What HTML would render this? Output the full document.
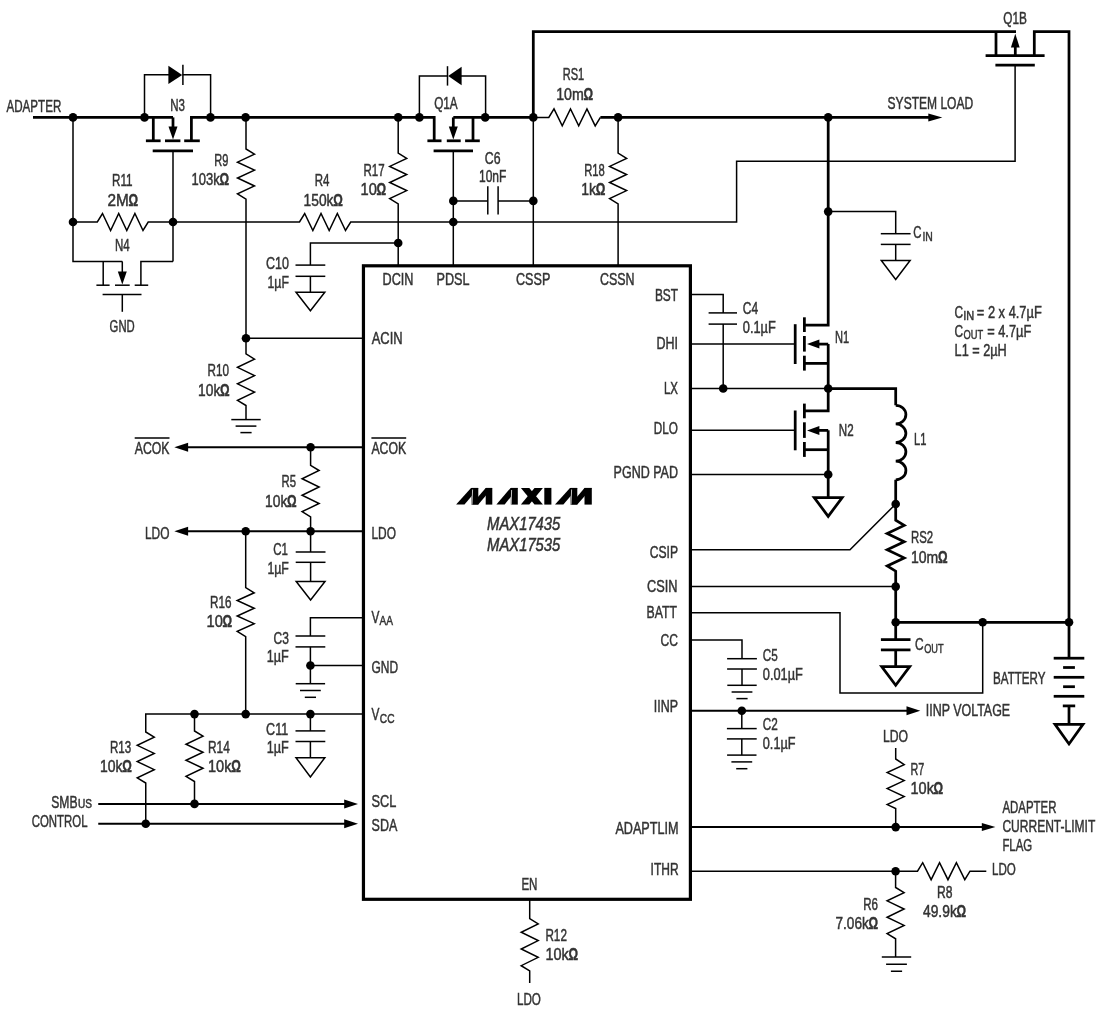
<!DOCTYPE html>
<html><head><meta charset="utf-8"><title>MAX17435 Typical Operating Circuit</title>
<style>
html,body{margin:0;padding:0;background:#fff;}
svg{display:block;filter:grayscale(1);}
text{font-family:"Liberation Sans",sans-serif;fill:#333333;stroke:#333333;stroke-width:0.5px;}
</style></head><body>
<svg width="1100" height="1018" viewBox="0 0 1100 1018">
<rect x="0" y="0" width="1100" height="1018" fill="#ffffff"/>
<path d="M33.00,117.40 L173.00,117.40" stroke="#000000" stroke-width="2.75" fill="none" stroke-linejoin="miter" stroke-linecap="butt"/>
<path d="M153.30,117.40 L153.30,140.80" stroke="#000000" stroke-width="2.75" fill="none" stroke-linejoin="miter" stroke-linecap="butt"/>
<path d="M173.00,117.40 L173.00,128.00" stroke="#000000" stroke-width="2.75" fill="none" stroke-linejoin="miter" stroke-linecap="butt"/>
<path d="M173.00,139.50 L168.50,126.50 L177.50,126.50 Z" fill="#000000" stroke="none"/>
<path d="M145.90,140.80 L160.60,140.80" stroke="#000000" stroke-width="2.75" fill="none" stroke-linejoin="miter" stroke-linecap="butt"/>
<path d="M165.00,140.80 L180.40,140.80" stroke="#000000" stroke-width="2.75" fill="none" stroke-linejoin="miter" stroke-linecap="butt"/>
<path d="M184.20,140.80 L199.80,140.80" stroke="#000000" stroke-width="2.75" fill="none" stroke-linejoin="miter" stroke-linecap="butt"/>
<path d="M152.70,150.80 L193.00,150.80" stroke="#000000" stroke-width="2.75" fill="none" stroke-linejoin="miter" stroke-linecap="butt"/>
<path d="M191.40,140.80 L191.40,117.40 L434.20,117.40 L434.20,140.80" stroke="#000000" stroke-width="2.75" fill="none" stroke-linejoin="miter" stroke-linecap="butt"/>
<circle cx="73.00" cy="117.40" r="4.3" fill="#000000"/>
<circle cx="144.50" cy="117.40" r="4.3" fill="#000000"/>
<circle cx="210.50" cy="117.40" r="4.3" fill="#000000"/>
<circle cx="245.60" cy="117.40" r="4.3" fill="#000000"/>
<path d="M144.50,117.40 L144.50,74.70 L169.00,74.70" stroke="#000000" stroke-width="1.5" fill="none" stroke-linejoin="miter" stroke-linecap="butt"/>
<path d="M182.70,74.70 L210.60,74.70 L210.60,117.40" stroke="#000000" stroke-width="1.5" fill="none" stroke-linejoin="miter" stroke-linecap="butt"/>
<path d="M168.4,65.8 L168.4,84 L182.2,74.9 Z" fill="#000000"/>
<path d="M182.90,64.70 L182.90,85.00" stroke="#000000" stroke-width="1.5" fill="none" stroke-linejoin="miter" stroke-linecap="butt"/>
<path d="M173.00,150.80 L173.00,261.40" stroke="#000000" stroke-width="1.5" fill="none" stroke-linejoin="miter" stroke-linecap="butt"/>
<path d="M73.00,117.40 L73.00,261.40 L122.30,261.40" stroke="#000000" stroke-width="1.5" fill="none" stroke-linejoin="miter" stroke-linecap="butt"/>
<path d="M103.20,261.40 L103.20,285.20" stroke="#000000" stroke-width="1.5" fill="none" stroke-linejoin="miter" stroke-linecap="butt"/>
<path d="M122.30,261.40 L122.30,274.00" stroke="#000000" stroke-width="1.5" fill="none" stroke-linejoin="miter" stroke-linecap="butt"/>
<path d="M122.30,284.50 L117.80,271.50 L126.80,271.50 Z" fill="#000000" stroke="none"/>
<path d="M96.40,285.20 L109.60,285.20" stroke="#000000" stroke-width="1.5" fill="none" stroke-linejoin="miter" stroke-linecap="butt"/>
<path d="M115.00,285.20 L129.70,285.20" stroke="#000000" stroke-width="1.5" fill="none" stroke-linejoin="miter" stroke-linecap="butt"/>
<path d="M134.70,285.20 L148.20,285.20" stroke="#000000" stroke-width="1.5" fill="none" stroke-linejoin="miter" stroke-linecap="butt"/>
<path d="M140.90,285.20 L140.90,261.40 L173.00,261.40" stroke="#000000" stroke-width="1.5" fill="none" stroke-linejoin="miter" stroke-linecap="butt"/>
<path d="M102.60,294.60 L141.50,294.60" stroke="#000000" stroke-width="1.5" fill="none" stroke-linejoin="miter" stroke-linecap="butt"/>
<path d="M122.30,294.60 L122.30,311.80" stroke="#000000" stroke-width="1.5" fill="none" stroke-linejoin="miter" stroke-linecap="butt"/>
<path d="M73.00,222.00 L97.30,222.00 L102.50,213.50 L110.60,230.50 L118.70,213.50 L126.80,230.50 L134.90,213.50 L143.00,230.50 L148.20,222.00 L299.50,222.00 L304.70,213.50 L312.86,230.50 L321.02,213.50 L329.18,230.50 L337.34,213.50 L345.50,230.50 L350.70,222.00 L736.60,222.00 L736.60,161.30 L1015.10,161.30 L1015.10,65.10" stroke="#000000" stroke-width="1.5" fill="none" stroke-linejoin="miter" stroke-linecap="butt"/>
<circle cx="73.00" cy="222.00" r="4.3" fill="#000000"/>
<circle cx="173.00" cy="222.00" r="4.3" fill="#000000"/>
<path d="M246.00,117.40 L246.00,149.00 L254.50,154.20 L237.50,162.14 L254.50,170.08 L237.50,178.02 L254.50,185.96 L237.50,193.90 L246.00,199.10 L246.00,338.30 L246.00,353.90 L254.50,359.10 L237.50,367.34 L254.50,375.58 L237.50,383.82 L254.50,392.06 L237.50,400.30 L246.00,405.50 L246.00,419.60" stroke="#000000" stroke-width="1.5" fill="none" stroke-linejoin="miter" stroke-linecap="butt"/>
<circle cx="246.00" cy="338.30" r="4.3" fill="#000000"/>
<path d="M246.00,338.30 L363.40,338.30" stroke="#000000" stroke-width="1.5" fill="none" stroke-linejoin="miter" stroke-linecap="butt"/>
<path d="M231.30,419.60 L260.70,419.60" stroke="#000000" stroke-width="1.5" fill="none" stroke-linejoin="miter" stroke-linecap="butt"/>
<path d="M235.60,426.10 L256.40,426.10" stroke="#000000" stroke-width="1.5" fill="none" stroke-linejoin="miter" stroke-linecap="butt"/>
<path d="M240.40,432.60 L251.60,432.60" stroke="#000000" stroke-width="1.5" fill="none" stroke-linejoin="miter" stroke-linecap="butt"/>
<circle cx="398.20" cy="117.40" r="4.3" fill="#000000"/>
<path d="M398.20,117.40 L398.20,153.20 L406.70,158.40 L389.70,166.44 L406.70,174.48 L389.70,182.52 L406.70,190.56 L389.70,198.60 L398.20,203.80 L398.20,266.00" stroke="#000000" stroke-width="1.5" fill="none" stroke-linejoin="miter" stroke-linecap="butt"/>
<circle cx="398.20" cy="243.00" r="4.3" fill="#000000"/>
<path d="M398.20,243.00 L310.40,243.00 L310.40,265.10" stroke="#000000" stroke-width="1.5" fill="none" stroke-linejoin="miter" stroke-linecap="butt"/>
<path d="M295.50,265.10 L325.30,265.10" stroke="#000000" stroke-width="1.5" fill="none" stroke-linejoin="miter" stroke-linecap="butt"/>
<path d="M295.50,276.30 L325.30,276.30" stroke="#000000" stroke-width="1.5" fill="none" stroke-linejoin="miter" stroke-linecap="butt"/>
<path d="M310.40,276.30 L310.40,292.30" stroke="#000000" stroke-width="1.5" fill="none" stroke-linejoin="miter" stroke-linecap="butt"/>
<path d="M296.00,292.30 L324.80,292.30 L310.40,310.80 Z" stroke="#000000" stroke-width="1.5" fill="none" stroke-linejoin="miter" stroke-linecap="butt"/>
<circle cx="419.40" cy="117.40" r="4.3" fill="#000000"/>
<circle cx="485.20" cy="117.40" r="4.3" fill="#000000"/>
<path d="M427.40,140.80 L441.50,140.80" stroke="#000000" stroke-width="2.75" fill="none" stroke-linejoin="miter" stroke-linecap="butt"/>
<path d="M446.80,140.80 L460.70,140.80" stroke="#000000" stroke-width="2.75" fill="none" stroke-linejoin="miter" stroke-linecap="butt"/>
<path d="M465.10,140.80 L479.80,140.80" stroke="#000000" stroke-width="2.75" fill="none" stroke-linejoin="miter" stroke-linecap="butt"/>
<path d="M433.60,150.80 L473.00,150.80" stroke="#000000" stroke-width="2.75" fill="none" stroke-linejoin="miter" stroke-linecap="butt"/>
<path d="M473.00,140.80 L473.00,117.40" stroke="#000000" stroke-width="2.75" fill="none" stroke-linejoin="miter" stroke-linecap="butt"/>
<path d="M453.30,117.40 L533.30,117.40" stroke="#000000" stroke-width="2.75" fill="none" stroke-linejoin="miter" stroke-linecap="butt"/>
<path d="M453.30,117.40 L453.30,128.00" stroke="#000000" stroke-width="2.75" fill="none" stroke-linejoin="miter" stroke-linecap="butt"/>
<path d="M453.30,139.50 L448.80,126.50 L457.80,126.50 Z" fill="#000000" stroke="none"/>
<path d="M453.30,150.80 L453.30,266.00" stroke="#000000" stroke-width="1.5" fill="none" stroke-linejoin="miter" stroke-linecap="butt"/>
<circle cx="453.30" cy="200.90" r="4.3" fill="#000000"/>
<circle cx="453.30" cy="222.00" r="4.3" fill="#000000"/>
<path d="M419.40,117.40 L419.40,75.90 L448.00,75.90" stroke="#000000" stroke-width="1.5" fill="none" stroke-linejoin="miter" stroke-linecap="butt"/>
<path d="M461.00,75.90 L485.60,75.90 L485.60,117.40" stroke="#000000" stroke-width="1.5" fill="none" stroke-linejoin="miter" stroke-linecap="butt"/>
<path d="M461.6,66.8 L461.6,85.2 L448.2,76 Z" fill="#000000"/>
<path d="M447.50,66.20 L447.50,85.60" stroke="#000000" stroke-width="1.5" fill="none" stroke-linejoin="miter" stroke-linecap="butt"/>
<path d="M453.30,200.90 L487.80,200.90" stroke="#000000" stroke-width="1.5" fill="none" stroke-linejoin="miter" stroke-linecap="butt"/>
<path d="M498.10,200.90 L533.30,200.90" stroke="#000000" stroke-width="1.5" fill="none" stroke-linejoin="miter" stroke-linecap="butt"/>
<path d="M487.80,186.20 L487.80,214.60" stroke="#000000" stroke-width="1.5" fill="none" stroke-linejoin="miter" stroke-linecap="butt"/>
<path d="M498.10,186.20 L498.10,214.60" stroke="#000000" stroke-width="1.5" fill="none" stroke-linejoin="miter" stroke-linecap="butt"/>
<circle cx="533.30" cy="200.90" r="4.3" fill="#000000"/>
<circle cx="533.30" cy="117.40" r="4.3" fill="#000000"/>
<path d="M533.30,117.40 L533.30,266.00" stroke="#000000" stroke-width="1.5" fill="none" stroke-linejoin="miter" stroke-linecap="butt"/>
<path d="M533.30,117.40 L533.30,31.70 L1016.00,31.70" stroke="#000000" stroke-width="2.75" fill="none" stroke-linejoin="miter" stroke-linecap="butt"/>
<path d="M996.00,31.70 L996.00,55.60" stroke="#000000" stroke-width="2.75" fill="none" stroke-linejoin="miter" stroke-linecap="butt"/>
<path d="M985.60,55.60 L1044.60,55.60" stroke="#000000" stroke-width="2.75" fill="none" stroke-linejoin="miter" stroke-linecap="butt"/>
<path d="M1034.30,55.60 L1034.30,31.70 L1069.00,31.70 L1069.00,658.10" stroke="#000000" stroke-width="2.75" fill="none" stroke-linejoin="miter" stroke-linecap="butt"/>
<path d="M1015.30,55.60 L1015.30,46.00" stroke="#000000" stroke-width="2.75" fill="none" stroke-linejoin="miter" stroke-linecap="butt"/>
<path d="M1015.30,33.80 L1010.90,47.40 L1019.70,47.40 Z" fill="#000000" stroke="none"/>
<path d="M995.40,65.10 L1034.80,65.10" stroke="#000000" stroke-width="2.75" fill="none" stroke-linejoin="miter" stroke-linecap="butt"/>
<path d="M533.30,117.40 L548.80,117.40 L554.00,108.90 L562.24,125.90 L570.48,108.90 L578.72,125.90 L586.96,108.90 L595.20,125.90 L600.40,117.40" stroke="#000000" stroke-width="1.5" fill="none" stroke-linejoin="miter" stroke-linecap="butt"/>
<path d="M600.40,117.40 L930.00,117.40" stroke="#000000" stroke-width="2.75" fill="none" stroke-linejoin="miter" stroke-linecap="butt"/>
<path d="M942.30,117.40 L928.30,113.40 L928.30,121.40 Z" fill="#000000" stroke="none"/>
<circle cx="618.10" cy="117.40" r="4.3" fill="#000000"/>
<path d="M618.10,117.40 L618.10,153.20 L626.60,158.40 L609.60,166.44 L626.60,174.48 L609.60,182.52 L626.60,190.56 L609.60,198.60 L618.10,203.80 L618.10,266.00" stroke="#000000" stroke-width="1.5" fill="none" stroke-linejoin="miter" stroke-linecap="butt"/>
<circle cx="828.20" cy="117.40" r="4.3" fill="#000000"/>
<circle cx="828.20" cy="211.60" r="4.3" fill="#000000"/>
<path d="M828.20,117.40 L828.20,325.10 L804.40,325.10" stroke="#000000" stroke-width="2.75" fill="none" stroke-linejoin="miter" stroke-linecap="butt"/>
<path d="M828.20,211.60 L895.70,211.60 L895.70,233.70" stroke="#000000" stroke-width="1.5" fill="none" stroke-linejoin="miter" stroke-linecap="butt"/>
<path d="M880.80,233.70 L910.60,233.70" stroke="#000000" stroke-width="1.5" fill="none" stroke-linejoin="miter" stroke-linecap="butt"/>
<path d="M880.80,244.40 L910.60,244.40" stroke="#000000" stroke-width="1.5" fill="none" stroke-linejoin="miter" stroke-linecap="butt"/>
<path d="M895.70,244.40 L895.70,260.50" stroke="#000000" stroke-width="1.5" fill="none" stroke-linejoin="miter" stroke-linecap="butt"/>
<path d="M881.30,260.50 L910.10,260.50 L895.70,279.40 Z" stroke="#000000" stroke-width="1.5" fill="none" stroke-linejoin="miter" stroke-linecap="butt"/>
<path d="M795.20,324.20 L795.20,364.00" stroke="#000000" stroke-width="2.75" fill="none" stroke-linejoin="miter" stroke-linecap="butt"/>
<path d="M804.40,317.30 L804.40,332.00" stroke="#000000" stroke-width="2.75" fill="none" stroke-linejoin="miter" stroke-linecap="butt"/>
<path d="M804.40,336.00 L804.40,351.60" stroke="#000000" stroke-width="2.75" fill="none" stroke-linejoin="miter" stroke-linecap="butt"/>
<path d="M804.40,355.70 L804.40,370.60" stroke="#000000" stroke-width="2.75" fill="none" stroke-linejoin="miter" stroke-linecap="butt"/>
<path d="M804.40,363.40 L828.20,363.40" stroke="#000000" stroke-width="2.75" fill="none" stroke-linejoin="miter" stroke-linecap="butt"/>
<path d="M818.00,344.10 L828.20,344.10" stroke="#000000" stroke-width="2.75" fill="none" stroke-linejoin="miter" stroke-linecap="butt"/>
<path d="M807.00,344.10 L819.40,339.60 L819.40,348.60 Z" fill="#000000" stroke="none"/>
<path d="M828.20,344.00 L828.20,388.50" stroke="#000000" stroke-width="2.75" fill="none" stroke-linejoin="miter" stroke-linecap="butt"/>
<path d="M690.40,344.00 L795.20,344.00" stroke="#000000" stroke-width="1.5" fill="none" stroke-linejoin="miter" stroke-linecap="butt"/>
<path d="M795.20,410.50 L795.20,450.30" stroke="#000000" stroke-width="2.75" fill="none" stroke-linejoin="miter" stroke-linecap="butt"/>
<path d="M804.40,403.60 L804.40,418.30" stroke="#000000" stroke-width="2.75" fill="none" stroke-linejoin="miter" stroke-linecap="butt"/>
<path d="M804.40,422.30 L804.40,437.90" stroke="#000000" stroke-width="2.75" fill="none" stroke-linejoin="miter" stroke-linecap="butt"/>
<path d="M804.40,442.00 L804.40,456.90" stroke="#000000" stroke-width="2.75" fill="none" stroke-linejoin="miter" stroke-linecap="butt"/>
<path d="M804.40,449.70 L828.20,449.70" stroke="#000000" stroke-width="2.75" fill="none" stroke-linejoin="miter" stroke-linecap="butt"/>
<path d="M818.00,430.40 L828.20,430.40" stroke="#000000" stroke-width="2.75" fill="none" stroke-linejoin="miter" stroke-linecap="butt"/>
<path d="M807.00,430.40 L819.40,425.90 L819.40,434.90 Z" fill="#000000" stroke="none"/>
<path d="M804.40,410.90 L828.20,410.90 L828.20,388.50" stroke="#000000" stroke-width="2.75" fill="none" stroke-linejoin="miter" stroke-linecap="butt"/>
<path d="M828.20,430.30 L828.20,497.50" stroke="#000000" stroke-width="2.75" fill="none" stroke-linejoin="miter" stroke-linecap="butt"/>
<path d="M814.20,497.50 L842.20,497.50 L828.20,516.40 Z" stroke="#000000" stroke-width="2.75" fill="none" stroke-linejoin="miter" stroke-linecap="butt"/>
<path d="M690.40,430.30 L795.20,430.30" stroke="#000000" stroke-width="1.5" fill="none" stroke-linejoin="miter" stroke-linecap="butt"/>
<path d="M690.40,474.50 L828.20,474.50" stroke="#000000" stroke-width="1.5" fill="none" stroke-linejoin="miter" stroke-linecap="butt"/>
<circle cx="828.20" cy="474.50" r="4.3" fill="#000000"/>
<path d="M690.40,388.50 L828.20,388.50" stroke="#000000" stroke-width="1.5" fill="none" stroke-linejoin="miter" stroke-linecap="butt"/>
<circle cx="723.20" cy="388.50" r="4.3" fill="#000000"/>
<circle cx="828.20" cy="388.50" r="4.3" fill="#000000"/>
<path d="M690.40,294.60 L723.20,294.60 L723.20,312.90" stroke="#000000" stroke-width="1.5" fill="none" stroke-linejoin="miter" stroke-linecap="butt"/>
<path d="M708.60,312.90 L737.00,312.90" stroke="#000000" stroke-width="1.5" fill="none" stroke-linejoin="miter" stroke-linecap="butt"/>
<path d="M708.60,324.10 L737.00,324.10" stroke="#000000" stroke-width="1.5" fill="none" stroke-linejoin="miter" stroke-linecap="butt"/>
<path d="M723.20,324.10 L723.20,388.50" stroke="#000000" stroke-width="1.5" fill="none" stroke-linejoin="miter" stroke-linecap="butt"/>
<path d="M828.20,388.50 L895.70,388.50 L895.70,405.30" stroke="#000000" stroke-width="2.75" fill="none" stroke-linejoin="miter" stroke-linecap="butt"/>
<path d="M895.7,405.3 a10.2,9.31 0 0 1 0,18.62 a10.2,9.31 0 0 1 0,18.62 a10.2,9.31 0 0 1 0,18.62 a10.2,9.31 0 0 1 0,18.62 " stroke="#000000" stroke-width="2.75" fill="none"/>
<path d="M895.70,479.80 L895.70,520.20 L904.20,525.40 L887.20,533.52 L904.20,541.64 L887.20,549.76 L904.20,557.88 L887.20,566.00 L895.70,571.20 L895.70,639.60" stroke="#000000" stroke-width="2.75" fill="none" stroke-linejoin="miter" stroke-linecap="butt"/>
<circle cx="895.70" cy="504.00" r="4.3" fill="#000000"/>
<circle cx="895.70" cy="586.60" r="4.3" fill="#000000"/>
<circle cx="895.70" cy="622.30" r="4.3" fill="#000000"/>
<path d="M690.40,549.80 L850.00,549.80 L895.70,504.00" stroke="#000000" stroke-width="1.5" fill="none" stroke-linejoin="miter" stroke-linecap="butt"/>
<path d="M690.40,586.60 L895.70,586.60" stroke="#000000" stroke-width="1.5" fill="none" stroke-linejoin="miter" stroke-linecap="butt"/>
<path d="M690.40,612.80 L840.00,612.80 L840.00,693.00 L982.70,693.00 L982.70,622.30" stroke="#000000" stroke-width="1.5" fill="none" stroke-linejoin="miter" stroke-linecap="butt"/>
<path d="M895.70,622.30 L1069.00,622.30" stroke="#000000" stroke-width="2.75" fill="none" stroke-linejoin="miter" stroke-linecap="butt"/>
<circle cx="982.70" cy="622.30" r="4.3" fill="#000000"/>
<circle cx="1069.00" cy="622.30" r="4.3" fill="#000000"/>
<path d="M880.90,639.60 L910.50,639.60" stroke="#000000" stroke-width="2.75" fill="none" stroke-linejoin="miter" stroke-linecap="butt"/>
<path d="M880.90,649.90 L910.50,649.90" stroke="#000000" stroke-width="2.75" fill="none" stroke-linejoin="miter" stroke-linecap="butt"/>
<path d="M895.70,649.90 L895.70,666.70" stroke="#000000" stroke-width="2.75" fill="none" stroke-linejoin="miter" stroke-linecap="butt"/>
<path d="M881.70,666.70 L909.70,666.70 L895.70,685.30 Z" stroke="#000000" stroke-width="2.75" fill="none" stroke-linejoin="miter" stroke-linecap="butt"/>
<path d="M690.40,639.90 L742.00,639.90 L742.00,658.70" stroke="#000000" stroke-width="1.5" fill="none" stroke-linejoin="miter" stroke-linecap="butt"/>
<path d="M727.10,658.70 L756.90,658.70" stroke="#000000" stroke-width="1.5" fill="none" stroke-linejoin="miter" stroke-linecap="butt"/>
<path d="M727.10,669.00 L756.90,669.00" stroke="#000000" stroke-width="1.5" fill="none" stroke-linejoin="miter" stroke-linecap="butt"/>
<path d="M742.00,669.00 L742.00,685.30" stroke="#000000" stroke-width="1.5" fill="none" stroke-linejoin="miter" stroke-linecap="butt"/>
<path d="M727.30,685.30 L756.70,685.30" stroke="#000000" stroke-width="1.5" fill="none" stroke-linejoin="miter" stroke-linecap="butt"/>
<path d="M731.60,692.00 L752.40,692.00" stroke="#000000" stroke-width="1.5" fill="none" stroke-linejoin="miter" stroke-linecap="butt"/>
<path d="M736.40,698.60 L747.60,698.60" stroke="#000000" stroke-width="1.5" fill="none" stroke-linejoin="miter" stroke-linecap="butt"/>
<path d="M690.40,710.80 L908.00,710.80" stroke="#000000" stroke-width="2.0" fill="none" stroke-linejoin="miter" stroke-linecap="butt"/>
<path d="M920.30,710.80 L906.50,706.30 L906.50,715.30 Z" fill="#000000" stroke="none"/>
<circle cx="741.80" cy="710.80" r="4.3" fill="#000000"/>
<path d="M741.80,710.80 L741.80,728.60" stroke="#000000" stroke-width="1.5" fill="none" stroke-linejoin="miter" stroke-linecap="butt"/>
<path d="M726.90,728.60 L756.70,728.60" stroke="#000000" stroke-width="1.5" fill="none" stroke-linejoin="miter" stroke-linecap="butt"/>
<path d="M726.90,738.90 L756.70,738.90" stroke="#000000" stroke-width="1.5" fill="none" stroke-linejoin="miter" stroke-linecap="butt"/>
<path d="M741.80,738.90 L741.80,755.10" stroke="#000000" stroke-width="1.5" fill="none" stroke-linejoin="miter" stroke-linecap="butt"/>
<path d="M727.10,755.10 L756.50,755.10" stroke="#000000" stroke-width="1.5" fill="none" stroke-linejoin="miter" stroke-linecap="butt"/>
<path d="M731.40,761.90 L752.20,761.90" stroke="#000000" stroke-width="1.5" fill="none" stroke-linejoin="miter" stroke-linecap="butt"/>
<path d="M736.20,768.70 L747.40,768.70" stroke="#000000" stroke-width="1.5" fill="none" stroke-linejoin="miter" stroke-linecap="butt"/>
<path d="M895.70,748.00 L895.70,759.00 L904.20,764.60 L887.20,772.60 L904.20,780.60 L887.20,788.60 L904.20,796.60 L887.20,804.60 L895.70,808.60 L895.70,827.10" stroke="#000000" stroke-width="1.5" fill="none" stroke-linejoin="miter" stroke-linecap="butt"/>
<circle cx="895.70" cy="827.10" r="4.3" fill="#000000"/>
<path d="M690.40,827.10 L983.00,827.10" stroke="#000000" stroke-width="2.0" fill="none" stroke-linejoin="miter" stroke-linecap="butt"/>
<path d="M995.40,827.10 L981.80,823.10 L981.80,831.10 Z" fill="#000000" stroke="none"/>
<path d="M690.40,871.20 L895.60,871.20 L917.50,871.20 L922.70,862.70 L931.12,879.70 L939.54,862.70 L947.96,879.70 L956.38,862.70 L964.80,879.70 L970.00,871.20 L986.30,871.20" stroke="#000000" stroke-width="1.5" fill="none" stroke-linejoin="miter" stroke-linecap="butt"/>
<circle cx="895.60" cy="871.20" r="4.3" fill="#000000"/>
<path d="M895.60,871.20 L895.60,887.50 L904.10,892.70 L887.10,900.87 L904.10,909.04 L887.10,917.21 L904.10,925.38 L887.10,933.55 L895.60,938.75 L895.60,957.00" stroke="#000000" stroke-width="1.5" fill="none" stroke-linejoin="miter" stroke-linecap="butt"/>
<path d="M881.80,957.00 L911.20,957.00" stroke="#000000" stroke-width="1.5" fill="none" stroke-linejoin="miter" stroke-linecap="butt"/>
<path d="M886.10,964.25 L906.90,964.25" stroke="#000000" stroke-width="1.5" fill="none" stroke-linejoin="miter" stroke-linecap="butt"/>
<path d="M890.90,971.25 L902.10,971.25" stroke="#000000" stroke-width="1.5" fill="none" stroke-linejoin="miter" stroke-linecap="butt"/>
<path d="M1053.70,658.20 L1084.30,658.20" stroke="#000000" stroke-width="2.75" fill="none" stroke-linejoin="miter" stroke-linecap="butt"/>
<path d="M1063.10,667.50 L1074.90,667.50" stroke="#000000" stroke-width="2.75" fill="none" stroke-linejoin="miter" stroke-linecap="butt"/>
<path d="M1053.70,677.30 L1084.30,677.30" stroke="#000000" stroke-width="2.75" fill="none" stroke-linejoin="miter" stroke-linecap="butt"/>
<path d="M1063.10,686.70 L1074.90,686.70" stroke="#000000" stroke-width="2.75" fill="none" stroke-linejoin="miter" stroke-linecap="butt"/>
<path d="M1053.70,696.30 L1084.30,696.30" stroke="#000000" stroke-width="2.75" fill="none" stroke-linejoin="miter" stroke-linecap="butt"/>
<path d="M1062.80,705.90 L1075.20,705.90" stroke="#000000" stroke-width="2.75" fill="none" stroke-linejoin="miter" stroke-linecap="butt"/>
<path d="M1069.00,705.90 L1069.00,724.40" stroke="#000000" stroke-width="2.75" fill="none" stroke-linejoin="miter" stroke-linecap="butt"/>
<path d="M1055.00,724.40 L1083.00,724.40 L1069.00,744.00 Z" stroke="#000000" stroke-width="2.75" fill="none" stroke-linejoin="miter" stroke-linecap="butt"/>
<path d="M363.40,447.30 L187.00,447.30" stroke="#000000" stroke-width="2.0" fill="none" stroke-linejoin="miter" stroke-linecap="butt"/>
<path d="M174.30,447.30 L188.10,442.80 L188.10,451.80 Z" fill="#000000" stroke="none"/>
<circle cx="310.60" cy="447.30" r="4.3" fill="#000000"/>
<path d="M310.60,447.30 L310.60,465.30 L319.10,470.50 L302.10,478.74 L319.10,486.98 L302.10,495.22 L319.10,503.46 L302.10,511.70 L310.60,516.90 L310.60,552.00" stroke="#000000" stroke-width="1.5" fill="none" stroke-linejoin="miter" stroke-linecap="butt"/>
<circle cx="310.60" cy="531.30" r="4.3" fill="#000000"/>
<circle cx="245.70" cy="531.30" r="4.3" fill="#000000"/>
<path d="M363.40,531.30 L187.00,531.30" stroke="#000000" stroke-width="2.0" fill="none" stroke-linejoin="miter" stroke-linecap="butt"/>
<path d="M174.30,531.30 L188.10,526.80 L188.10,535.80 Z" fill="#000000" stroke="none"/>
<path d="M295.70,552.00 L325.50,552.00" stroke="#000000" stroke-width="1.5" fill="none" stroke-linejoin="miter" stroke-linecap="butt"/>
<path d="M295.70,562.30 L325.50,562.30" stroke="#000000" stroke-width="1.5" fill="none" stroke-linejoin="miter" stroke-linecap="butt"/>
<path d="M310.60,562.30 L310.60,581.40" stroke="#000000" stroke-width="1.5" fill="none" stroke-linejoin="miter" stroke-linecap="butt"/>
<path d="M296.20,581.40 L325.00,581.40 L310.60,600.00 Z" stroke="#000000" stroke-width="1.5" fill="none" stroke-linejoin="miter" stroke-linecap="butt"/>
<path d="M245.70,531.30 L245.70,587.60 L254.20,592.80 L237.20,600.52 L254.20,608.24 L237.20,615.96 L254.20,623.68 L237.20,631.40 L245.70,636.60 L245.70,714.10" stroke="#000000" stroke-width="1.5" fill="none" stroke-linejoin="miter" stroke-linecap="butt"/>
<path d="M363.40,617.70 L310.40,617.70 L310.40,636.00" stroke="#000000" stroke-width="1.5" fill="none" stroke-linejoin="miter" stroke-linecap="butt"/>
<path d="M295.50,636.00 L325.30,636.00" stroke="#000000" stroke-width="1.5" fill="none" stroke-linejoin="miter" stroke-linecap="butt"/>
<path d="M295.50,646.90 L325.30,646.90" stroke="#000000" stroke-width="1.5" fill="none" stroke-linejoin="miter" stroke-linecap="butt"/>
<path d="M310.40,646.90 L310.40,683.70" stroke="#000000" stroke-width="1.5" fill="none" stroke-linejoin="miter" stroke-linecap="butt"/>
<circle cx="310.40" cy="665.50" r="4.3" fill="#000000"/>
<path d="M310.40,665.50 L363.40,665.50" stroke="#000000" stroke-width="1.5" fill="none" stroke-linejoin="miter" stroke-linecap="butt"/>
<path d="M295.70,683.70 L325.10,683.70" stroke="#000000" stroke-width="1.5" fill="none" stroke-linejoin="miter" stroke-linecap="butt"/>
<path d="M300.00,690.50 L320.80,690.50" stroke="#000000" stroke-width="1.5" fill="none" stroke-linejoin="miter" stroke-linecap="butt"/>
<path d="M304.80,697.30 L316.00,697.30" stroke="#000000" stroke-width="1.5" fill="none" stroke-linejoin="miter" stroke-linecap="butt"/>
<path d="M363.40,714.10 L145.75,714.10 L145.75,732.00 L154.25,737.20 L137.25,745.32 L154.25,753.44 L137.25,761.56 L154.25,769.68 L137.25,777.80 L145.75,783.00 L145.75,823.80" stroke="#000000" stroke-width="1.5" fill="none" stroke-linejoin="miter" stroke-linecap="butt"/>
<circle cx="194.50" cy="714.10" r="4.3" fill="#000000"/>
<circle cx="245.70" cy="714.10" r="4.3" fill="#000000"/>
<circle cx="310.40" cy="714.10" r="4.3" fill="#000000"/>
<path d="M310.40,714.10 L310.40,730.90" stroke="#000000" stroke-width="1.5" fill="none" stroke-linejoin="miter" stroke-linecap="butt"/>
<path d="M295.50,730.90 L325.30,730.90" stroke="#000000" stroke-width="1.5" fill="none" stroke-linejoin="miter" stroke-linecap="butt"/>
<path d="M295.50,741.50 L325.30,741.50" stroke="#000000" stroke-width="1.5" fill="none" stroke-linejoin="miter" stroke-linecap="butt"/>
<path d="M310.40,741.50 L310.40,757.70" stroke="#000000" stroke-width="1.5" fill="none" stroke-linejoin="miter" stroke-linecap="butt"/>
<path d="M296.00,757.70 L324.80,757.70 L310.40,776.90 Z" stroke="#000000" stroke-width="1.5" fill="none" stroke-linejoin="miter" stroke-linecap="butt"/>
<path d="M194.50,714.10 L194.50,731.00 L203.00,736.20 L186.00,744.22 L203.00,752.24 L186.00,760.26 L203.00,768.28 L186.00,776.30 L194.50,781.50 L194.50,803.90" stroke="#000000" stroke-width="1.5" fill="none" stroke-linejoin="miter" stroke-linecap="butt"/>
<circle cx="194.50" cy="803.90" r="4.3" fill="#000000"/>
<path d="M98.25,803.90 L346.00,803.90" stroke="#000000" stroke-width="2.0" fill="none" stroke-linejoin="miter" stroke-linecap="butt"/>
<path d="M358.00,803.90 L344.20,799.40 L344.20,808.40 Z" fill="#000000" stroke="none"/>
<path d="M98.25,823.80 L346.00,823.80" stroke="#000000" stroke-width="2.0" fill="none" stroke-linejoin="miter" stroke-linecap="butt"/>
<path d="M358.00,823.80 L344.20,819.30 L344.20,828.30 Z" fill="#000000" stroke="none"/>
<circle cx="145.75" cy="823.80" r="4.3" fill="#000000"/>
<path d="M529.70,899.00 L529.70,918.70 L538.20,923.90 L521.20,932.26 L538.20,940.62 L521.20,948.98 L538.20,957.34 L521.20,965.70 L529.70,970.90 L529.70,983.00" stroke="#000000" stroke-width="1.5" fill="none" stroke-linejoin="miter" stroke-linecap="butt"/>
<rect x="363.45" y="265.8" width="326.95" height="633.5" fill="none" stroke="#000000" stroke-width="3.2"/>
<polygon points="456.10,504.60 464.50,504.60 478.50,487.90 471.00,487.90" fill="#000000"/>
<polygon points="471.50,504.60 478.30,504.60 478.30,487.90 471.50,487.90" fill="#000000"/>
<polygon points="471.50,504.60 478.30,504.60 492.30,487.90 485.70,487.90" fill="#000000"/>
<polygon points="485.70,504.60 492.30,504.60 492.30,487.90 485.70,487.90" fill="#000000"/>
<polygon points="496.40,504.60 504.70,504.60 517.80,487.90 510.60,487.90" fill="#000000"/>
<polygon points="510.80,504.60 517.80,504.60 517.80,487.90 510.80,487.90" fill="#000000"/>
<polygon points="520.90,487.90 529.30,487.90 542.90,504.60 534.50,504.60" fill="#000000"/>
<polygon points="520.90,504.60 529.30,504.60 542.90,487.90 534.50,487.90" fill="#000000"/>
<polygon points="544.30,504.60 551.40,504.60 551.40,487.90 544.30,487.90" fill="#000000"/>
<polygon points="555.00,504.60 563.40,504.60 577.50,487.90 570.00,487.90" fill="#000000"/>
<polygon points="570.50,504.60 577.30,504.60 577.30,487.90 570.50,487.90" fill="#000000"/>
<polygon points="570.50,504.60 577.30,504.60 591.80,487.90 584.50,487.90" fill="#000000"/>
<polygon points="584.50,504.60 591.80,504.60 591.80,487.90 584.50,487.90" fill="#000000"/>
<line x1="472.6" y1="489.5" x2="472.0" y2="504.6" stroke="#fff" stroke-width="0.9" opacity="0.85"/>
<line x1="571.6" y1="489.5" x2="571.0" y2="504.6" stroke="#fff" stroke-width="0.9" opacity="0.85"/>
<line x1="511.6" y1="490" x2="511.2" y2="504.6" stroke="#fff" stroke-width="0.9" opacity="0.85"/>
<g opacity="0.999">
<text x="6.50" y="111.60" font-size="17.3" textLength="54.80" lengthAdjust="spacingAndGlyphs">ADAPTER</text>
<text x="170.30" y="110.70" font-size="17.3" textLength="14.70" lengthAdjust="spacingAndGlyphs">N3</text>
<text x="214.30" y="165.80" font-size="17.3" textLength="14.10" lengthAdjust="spacingAndGlyphs">R9</text>
<text x="191.60" y="185.00" font-size="17.3" textLength="28.10" lengthAdjust="spacingAndGlyphs">103k</text>
<text x="219.40" y="185.00" font-size="15.6" textLength="9.60" lengthAdjust="spacingAndGlyphs" font-family="Liberation Serif" font-weight="bold" stroke-width="0">&#937;</text>
<text x="112.00" y="185.90" font-size="17.3" textLength="20.60" lengthAdjust="spacingAndGlyphs">R11</text>
<text x="107.60" y="205.60" font-size="17.3" textLength="21.30" lengthAdjust="spacingAndGlyphs">2M</text>
<text x="128.60" y="205.60" font-size="15.6" textLength="9.60" lengthAdjust="spacingAndGlyphs" font-family="Liberation Serif" font-weight="bold" stroke-width="0">&#937;</text>
<text x="115.00" y="250.70" font-size="17.3" textLength="14.70" lengthAdjust="spacingAndGlyphs">N4</text>
<text x="109.60" y="332.10" font-size="17.3" textLength="25.10" lengthAdjust="spacingAndGlyphs">GND</text>
<text x="434.20" y="109.30" font-size="17.3" textLength="23.50" lengthAdjust="spacingAndGlyphs">Q1A</text>
<text x="484.80" y="163.80" font-size="17.3" textLength="15.70" lengthAdjust="spacingAndGlyphs">C6</text>
<text x="479.00" y="182.00" font-size="17.3" textLength="27.40" lengthAdjust="spacingAndGlyphs">10nF</text>
<text x="363.40" y="175.60" font-size="17.3" textLength="21.20" lengthAdjust="spacingAndGlyphs">R17</text>
<text x="360.50" y="195.30" font-size="17.3" textLength="16.30" lengthAdjust="spacingAndGlyphs">10</text>
<text x="376.50" y="195.30" font-size="15.6" textLength="9.60" lengthAdjust="spacingAndGlyphs" font-family="Liberation Serif" font-weight="bold" stroke-width="0">&#937;</text>
<text x="314.80" y="185.90" font-size="17.3" textLength="14.70" lengthAdjust="spacingAndGlyphs">R4</text>
<text x="303.60" y="205.60" font-size="17.3" textLength="29.90" lengthAdjust="spacingAndGlyphs">150k</text>
<text x="333.20" y="205.60" font-size="15.6" textLength="9.60" lengthAdjust="spacingAndGlyphs" font-family="Liberation Serif" font-weight="bold" stroke-width="0">&#937;</text>
<text x="382.60" y="285.20" font-size="17.3" textLength="30.90" lengthAdjust="spacingAndGlyphs">DCIN</text>
<text x="436.50" y="285.20" font-size="17.3" textLength="33.00" lengthAdjust="spacingAndGlyphs">PDSL</text>
<text x="516.00" y="285.20" font-size="17.3" textLength="34.30" lengthAdjust="spacingAndGlyphs">CSSP</text>
<text x="600.00" y="285.20" font-size="17.3" textLength="34.50" lengthAdjust="spacingAndGlyphs">CSSN</text>
<text x="371.70" y="344.10" font-size="17.3" textLength="30.90" lengthAdjust="spacingAndGlyphs">ACIN</text>
<text x="266.00" y="269.00" font-size="17.3" textLength="22.90" lengthAdjust="spacingAndGlyphs">C10</text>
<text x="267.50" y="287.60" font-size="17.3" textLength="21.40" lengthAdjust="spacingAndGlyphs">1&#181;F</text>
<text x="562.70" y="80.30" font-size="17.3" textLength="21.50" lengthAdjust="spacingAndGlyphs">RS1</text>
<text x="556.20" y="99.80" font-size="17.3" textLength="27.60" lengthAdjust="spacingAndGlyphs">10m</text>
<text x="583.50" y="99.80" font-size="15.6" textLength="9.60" lengthAdjust="spacingAndGlyphs" font-family="Liberation Serif" font-weight="bold" stroke-width="0">&#937;</text>
<text x="584.20" y="175.60" font-size="17.3" textLength="20.60" lengthAdjust="spacingAndGlyphs">R18</text>
<text x="581.30" y="195.30" font-size="17.3" textLength="14.80" lengthAdjust="spacingAndGlyphs">1k</text>
<text x="595.80" y="195.30" font-size="15.6" textLength="9.60" lengthAdjust="spacingAndGlyphs" font-family="Liberation Serif" font-weight="bold" stroke-width="0">&#937;</text>
<text x="654.90" y="300.80" font-size="17.3" textLength="23.10" lengthAdjust="spacingAndGlyphs">BST</text>
<text x="656.50" y="348.50" font-size="17.3" textLength="21.50" lengthAdjust="spacingAndGlyphs">DHI</text>
<text x="742.80" y="314.10" font-size="17.3" textLength="15.30" lengthAdjust="spacingAndGlyphs">C4</text>
<text x="742.80" y="332.60" font-size="17.3" textLength="33.00" lengthAdjust="spacingAndGlyphs">0.1&#181;F</text>
<text x="887.60" y="108.50" font-size="17.3" textLength="85.60" lengthAdjust="spacingAndGlyphs">SYSTEM LOAD</text>
<text x="1003.30" y="23.90" font-size="17.3" textLength="23.60" lengthAdjust="spacingAndGlyphs">Q1B</text>
<text x="835.00" y="342.80" font-size="17.3" textLength="14.20" lengthAdjust="spacingAndGlyphs">N1</text>
<text x="838.80" y="435.90" font-size="17.3" textLength="14.80" lengthAdjust="spacingAndGlyphs">N2</text>
<text x="914.00" y="444.80" font-size="17.3" textLength="12.40" lengthAdjust="spacingAndGlyphs">L1</text>
<text x="911.00" y="542.60" font-size="17.3" textLength="22.10" lengthAdjust="spacingAndGlyphs">RS2</text>
<text x="911.00" y="563.30" font-size="17.3" textLength="27.30" lengthAdjust="spacingAndGlyphs">10m</text>
<text x="938.00" y="563.30" font-size="15.6" textLength="9.60" lengthAdjust="spacingAndGlyphs" font-family="Liberation Serif" font-weight="bold" stroke-width="0">&#937;</text>
<text x="664.00" y="394.10" font-size="17.3" textLength="14.00" lengthAdjust="spacingAndGlyphs">LX</text>
<text x="653.80" y="433.50" font-size="17.3" textLength="24.20" lengthAdjust="spacingAndGlyphs">DLO</text>
<text x="613.60" y="478.20" font-size="17.3" textLength="64.40" lengthAdjust="spacingAndGlyphs">PGND PAD</text>
<text x="649.70" y="557.60" font-size="17.3" textLength="28.30" lengthAdjust="spacingAndGlyphs">CSIP</text>
<text x="647.00" y="591.90" font-size="17.3" textLength="30.50" lengthAdjust="spacingAndGlyphs">CSIN</text>
<text x="646.60" y="618.20" font-size="17.3" textLength="30.40" lengthAdjust="spacingAndGlyphs">BATT</text>
<text x="660.60" y="645.70" font-size="17.3" textLength="17.40" lengthAdjust="spacingAndGlyphs">CC</text>
<text x="653.80" y="711.90" font-size="17.3" textLength="24.20" lengthAdjust="spacingAndGlyphs">IINP</text>
<text x="615.40" y="833.50" font-size="17.3" textLength="63.20" lengthAdjust="spacingAndGlyphs">ADAPTLIM</text>
<text x="650.60" y="875.40" font-size="17.3" textLength="28.00" lengthAdjust="spacingAndGlyphs">ITHR</text>
<text x="521.40" y="889.90" font-size="17.3" textLength="16.10" lengthAdjust="spacingAndGlyphs">EN</text>
<text x="545.40" y="941.40" font-size="17.3" textLength="21.50" lengthAdjust="spacingAndGlyphs">R12</text>
<text x="545.40" y="960.00" font-size="17.3" textLength="23.30" lengthAdjust="spacingAndGlyphs">10k</text>
<text x="568.40" y="960.00" font-size="15.6" textLength="9.60" lengthAdjust="spacingAndGlyphs" font-family="Liberation Serif" font-weight="bold" stroke-width="0">&#937;</text>
<text x="516.90" y="1004.80" font-size="17.3" textLength="24.00" lengthAdjust="spacingAndGlyphs">LDO</text>
<text x="762.80" y="660.50" font-size="17.3" textLength="15.00" lengthAdjust="spacingAndGlyphs">C5</text>
<text x="762.80" y="679.70" font-size="17.3" textLength="40.10" lengthAdjust="spacingAndGlyphs">0.01&#181;F</text>
<text x="762.80" y="729.80" font-size="17.3" textLength="15.00" lengthAdjust="spacingAndGlyphs">C2</text>
<text x="762.80" y="748.90" font-size="17.3" textLength="32.70" lengthAdjust="spacingAndGlyphs">0.1&#181;F</text>
<text x="883.00" y="742.40" font-size="17.3" textLength="25.10" lengthAdjust="spacingAndGlyphs">LDO</text>
<text x="910.50" y="774.90" font-size="17.3" textLength="13.80" lengthAdjust="spacingAndGlyphs">R7</text>
<text x="910.50" y="793.60" font-size="17.3" textLength="23.40" lengthAdjust="spacingAndGlyphs">10k</text>
<text x="933.60" y="793.60" font-size="15.6" textLength="9.60" lengthAdjust="spacingAndGlyphs" font-family="Liberation Serif" font-weight="bold" stroke-width="0">&#937;</text>
<text x="993.00" y="684.00" font-size="17.3" textLength="52.50" lengthAdjust="spacingAndGlyphs">BATTERY</text>
<text x="925.80" y="715.90" font-size="17.3" textLength="84.30" lengthAdjust="spacingAndGlyphs">IINP VOLTAGE</text>
<text x="1002.40" y="813.10" font-size="17.3" textLength="54.00" lengthAdjust="spacingAndGlyphs">ADAPTER</text>
<text x="1002.40" y="831.70" font-size="17.3" textLength="92.90" lengthAdjust="spacingAndGlyphs">CURRENT-LIMIT</text>
<text x="1002.40" y="850.90" font-size="17.3" textLength="29.80" lengthAdjust="spacingAndGlyphs">FLAG</text>
<text x="992.00" y="875.30" font-size="17.3" textLength="23.80" lengthAdjust="spacingAndGlyphs">LDO</text>
<text x="937.00" y="897.80" font-size="17.3" textLength="15.50" lengthAdjust="spacingAndGlyphs">R8</text>
<text x="923.00" y="916.55" font-size="17.3" textLength="33.80" lengthAdjust="spacingAndGlyphs">49.9k</text>
<text x="956.50" y="916.55" font-size="15.6" textLength="9.60" lengthAdjust="spacingAndGlyphs" font-family="Liberation Serif" font-weight="bold" stroke-width="0">&#937;</text>
<text x="863.25" y="909.80" font-size="17.3" textLength="14.75" lengthAdjust="spacingAndGlyphs">R6</text>
<text x="835.50" y="928.55" font-size="17.3" textLength="33.30" lengthAdjust="spacingAndGlyphs">7.06k</text>
<text x="868.50" y="928.55" font-size="15.6" textLength="9.60" lengthAdjust="spacingAndGlyphs" font-family="Liberation Serif" font-weight="bold" stroke-width="0">&#937;</text>
<text x="134.70" y="453.50" font-size="17.3" textLength="34.80" lengthAdjust="spacingAndGlyphs">ACOK</text>
<text x="145.00" y="539.00" font-size="17.3" textLength="24.50" lengthAdjust="spacingAndGlyphs">LDO</text>
<text x="207.50" y="375.70" font-size="17.3" textLength="21.50" lengthAdjust="spacingAndGlyphs">R10</text>
<text x="198.10" y="395.50" font-size="17.3" textLength="22.20" lengthAdjust="spacingAndGlyphs">10k</text>
<text x="220.00" y="395.50" font-size="15.6" textLength="9.60" lengthAdjust="spacingAndGlyphs" font-family="Liberation Serif" font-weight="bold" stroke-width="0">&#937;</text>
<text x="281.50" y="486.80" font-size="17.3" textLength="14.50" lengthAdjust="spacingAndGlyphs">R5</text>
<text x="265.00" y="506.60" font-size="17.3" textLength="22.30" lengthAdjust="spacingAndGlyphs">10k</text>
<text x="287.00" y="506.60" font-size="15.6" textLength="9.60" lengthAdjust="spacingAndGlyphs" font-family="Liberation Serif" font-weight="bold" stroke-width="0">&#937;</text>
<text x="273.30" y="555.20" font-size="17.3" textLength="14.70" lengthAdjust="spacingAndGlyphs">C1</text>
<text x="267.40" y="573.80" font-size="17.3" textLength="21.50" lengthAdjust="spacingAndGlyphs">1&#181;F</text>
<text x="210.10" y="608.30" font-size="17.3" textLength="21.50" lengthAdjust="spacingAndGlyphs">R16</text>
<text x="206.60" y="626.60" font-size="17.3" textLength="16.30" lengthAdjust="spacingAndGlyphs">10</text>
<text x="222.60" y="626.60" font-size="15.6" textLength="9.60" lengthAdjust="spacingAndGlyphs" font-family="Liberation Serif" font-weight="bold" stroke-width="0">&#937;</text>
<text x="273.50" y="643.70" font-size="17.3" textLength="15.30" lengthAdjust="spacingAndGlyphs">C3</text>
<text x="266.70" y="661.90" font-size="17.3" textLength="22.10" lengthAdjust="spacingAndGlyphs">1&#181;F</text>
<text x="266.10" y="735.00" font-size="17.3" textLength="22.10" lengthAdjust="spacingAndGlyphs">C11</text>
<text x="266.70" y="753.30" font-size="17.3" textLength="22.10" lengthAdjust="spacingAndGlyphs">1&#181;F</text>
<text x="208.00" y="752.70" font-size="17.3" textLength="21.80" lengthAdjust="spacingAndGlyphs">R14</text>
<text x="208.00" y="771.90" font-size="17.3" textLength="23.50" lengthAdjust="spacingAndGlyphs">10k</text>
<text x="231.20" y="771.90" font-size="15.6" textLength="9.60" lengthAdjust="spacingAndGlyphs" font-family="Liberation Serif" font-weight="bold" stroke-width="0">&#937;</text>
<text x="110.00" y="752.80" font-size="17.3" textLength="21.25" lengthAdjust="spacingAndGlyphs">R13</text>
<text x="100.00" y="771.55" font-size="17.3" textLength="22.55" lengthAdjust="spacingAndGlyphs">10k</text>
<text x="122.25" y="771.55" font-size="15.6" textLength="9.60" lengthAdjust="spacingAndGlyphs" font-family="Liberation Serif" font-weight="bold" stroke-width="0">&#937;</text>
<text x="31.75" y="827.05" font-size="17.3" textLength="55.75" lengthAdjust="spacingAndGlyphs">CONTROL</text>
<text x="371.40" y="453.50" font-size="17.3" textLength="34.80" lengthAdjust="spacingAndGlyphs">ACOK</text>
<text x="371.50" y="539.00" font-size="17.3" textLength="24.50" lengthAdjust="spacingAndGlyphs">LDO</text>
<text x="371.60" y="672.50" font-size="17.3" textLength="26.50" lengthAdjust="spacingAndGlyphs">GND</text>
<text x="371.60" y="807.20" font-size="17.3" textLength="24.80" lengthAdjust="spacingAndGlyphs">SCL</text>
<text x="371.60" y="830.80" font-size="17.3" textLength="25.70" lengthAdjust="spacingAndGlyphs">SDA</text>
<path d="M134.70,438.10 L169.50,438.10" stroke="#000000" stroke-width="1.5" fill="none" stroke-linejoin="miter" stroke-linecap="butt"/>
<path d="M371.40,438.10 L406.20,438.10" stroke="#000000" stroke-width="1.5" fill="none" stroke-linejoin="miter" stroke-linecap="butt"/>
<text x="51.25" y="808.30" font-size="17.3" textLength="26.25" lengthAdjust="spacingAndGlyphs">SMB</text>
<text x="78.00" y="808.30" font-size="12" textLength="14.00" lengthAdjust="spacingAndGlyphs">US</text>
<text x="913.20" y="238.40" font-size="17.3" textLength="8.20" lengthAdjust="spacingAndGlyphs">C</text>
<text x="922.40" y="241.40" font-size="13.3" textLength="10.40" lengthAdjust="spacingAndGlyphs">IN</text>
<text x="914.90" y="650.20" font-size="17.3" textLength="8.60" lengthAdjust="spacingAndGlyphs">C</text>
<text x="924.20" y="652.50" font-size="13.3" textLength="19.40" lengthAdjust="spacingAndGlyphs">OUT</text>
<text x="371.60" y="622.90" font-size="17.3" textLength="7.90" lengthAdjust="spacingAndGlyphs">V</text>
<text x="379.50" y="625.30" font-size="13.3" textLength="13.50" lengthAdjust="spacingAndGlyphs">AA</text>
<text x="371.60" y="719.90" font-size="17.3" textLength="7.90" lengthAdjust="spacingAndGlyphs">V</text>
<text x="379.80" y="722.50" font-size="13.3" textLength="14.70" lengthAdjust="spacingAndGlyphs">CC</text>
<text x="954.40" y="317.70" font-size="17.3" textLength="8.60" lengthAdjust="spacingAndGlyphs">C</text>
<text x="963.20" y="320.10" font-size="13.3" textLength="11.00" lengthAdjust="spacingAndGlyphs">IN</text>
<text x="976.80" y="317.70" font-size="17.3" textLength="65.00" lengthAdjust="spacingAndGlyphs">= 2 x 4.7&#181;F</text>
<text x="954.40" y="336.90" font-size="17.3" textLength="8.60" lengthAdjust="spacingAndGlyphs">C</text>
<text x="963.60" y="339.30" font-size="13.3" textLength="19.60" lengthAdjust="spacingAndGlyphs">OUT</text>
<text x="987.20" y="336.90" font-size="17.3" textLength="44.10" lengthAdjust="spacingAndGlyphs">= 4.7&#181;F</text>
<text x="954.60" y="356.30" font-size="17.3" textLength="52.20" lengthAdjust="spacingAndGlyphs">L1 = 2&#181;H</text>
<text x="487.10" y="529.50" font-size="18" textLength="73.20" lengthAdjust="spacingAndGlyphs" font-style="italic">MAX17435</text>
<text x="487.10" y="550.80" font-size="18" textLength="73.20" lengthAdjust="spacingAndGlyphs" font-style="italic">MAX17535</text>
</g>
</svg>
</body></html>
